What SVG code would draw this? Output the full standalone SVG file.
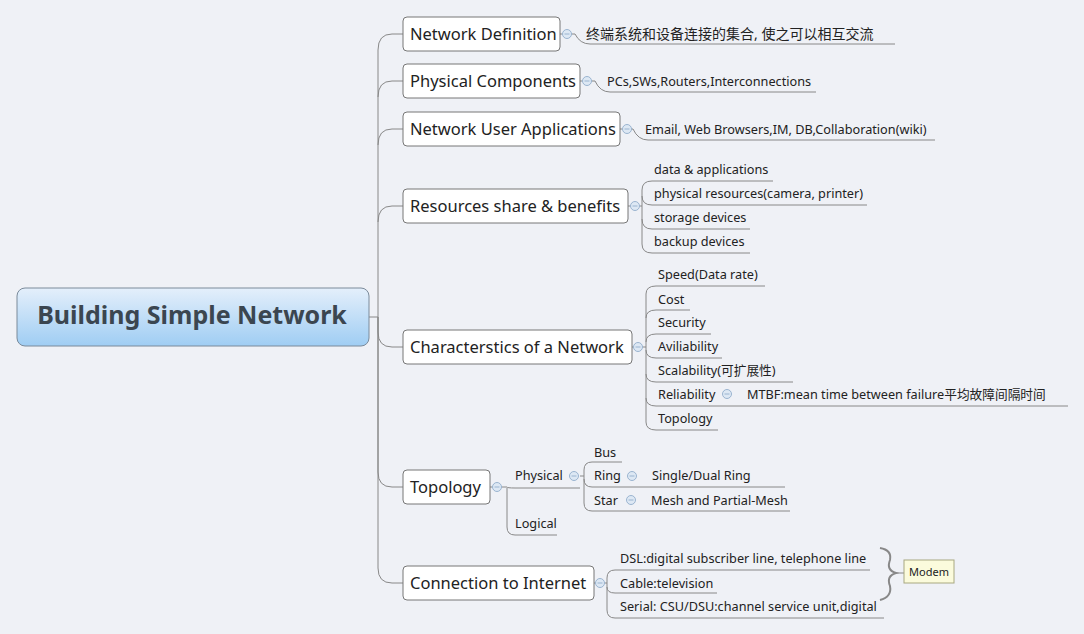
<svg xmlns="http://www.w3.org/2000/svg" width="1084" height="634" viewBox="0 0 1084 634">
<defs>
<linearGradient id="rg" x1="0" y1="0" x2="0" y2="1"><stop offset="0" stop-color="#e4effb"/><stop offset="1" stop-color="#9fcdf3"/></linearGradient>
</defs>
<style>
.bg{fill:#eff1f6}
.box{fill:#fff;stroke:#777;stroke-width:1}
.t{font-family:"Noto Sans","Noto Sans CJK SC",sans-serif;fill:#222}
.m{font-size:16.5px}
.s{font-size:12.7px}
.ln{fill:none;stroke:#888;stroke-width:1}
.c{fill:#dde8f4;stroke:#9ab4d0;stroke-width:1}
.cm{stroke:#9ab4d0;stroke-width:1}
</style>
<rect class="bg" width="1084" height="634"/>
<g id="connectors">
<path class="ln" d="M369 317 H378 M378 317 V50 Q378 34 392 34 H403 M378 97 Q378 81 392 81 H403 M378 145 Q378 129 392 129 H403 M378 222 Q378 206 392 206 H403 M378 317 V332 Q378 347 392 347 H403 M378 317 V472 Q378 487 392 487 H403 M378 317 V568 Q378 583 392 583 H403"/>
<path class="ln" d="M560 34 H575 Q580 44 590 44 H895"/>
<path class="ln" d="M580 81 H595 Q600 92 610 92 H816"/>
<path class="ln" d="M620 129 H633 Q638 140 648 140 H935"/>
<path class="ln" d="M628 206 H642 M642 190 Q642 181 652 181 H773 M642 196 Q642 205 652 205 H867 M642 219 Q642 229 652 229 H750 M642 244 Q642 253 652 253 H750 M642 190 V244"/>
<path class="ln" d="M632 347 H646 M646 294 Q646 286 656 286 H765 M646 318 Q646 310 656 310 H690 M646 342 Q646 334 656 334 H711 M646 350 Q646 358 656 358 H722 M646 374 Q646 382 656 382 H793 M646 398 Q646 406 656 406 H1068 M646 422 Q646 430 656 430 H718 M646 294 V422"/>
<path class="ln" d="M490 487 H507 M507 487 Q507 488 515 488 H580 M507 488 V527 Q507 535 515 535 H557"/>
<path class="ln" d="M580 476 H584 M584 470 Q584 462 592 462 H622 M584 479 Q584 487 592 487 H785 M584 503 Q584 511 592 511 H790 M584 470 V503"/>
<path class="ln" d="M594 583 H607 M607 578 Q607 570 615 570 H870 M607 587 Q607 593 615 593 H717 M607 610 Q607 618 615 618 H884 M607 578 V610"/>
<path d="M880 548 Q892 550 890 560 Q886 570 896 573 Q886 576 890 586 Q892 597 880 600" fill="none" stroke="#888" stroke-width="2"/>
<path class="ln" d="M896 573 H904"/>
</g>
<g id="collapsers">
<circle class="c" cx="567" cy="34" r="4.5"/><path class="cm" d="M564.5 34 H569.5"/>
<circle class="c" cx="587" cy="81" r="4.5"/><path class="cm" d="M584.5 81 H589.5"/>
<circle class="c" cx="627" cy="129" r="4.5"/><path class="cm" d="M624.5 129 H629.5"/>
<circle class="c" cx="635" cy="206" r="4.5"/><path class="cm" d="M632.5 206 H637.5"/>
<circle class="c" cx="638" cy="347" r="4.5"/><path class="cm" d="M635.5 347 H640.5"/>
<circle class="c" cx="727" cy="394" r="4.5"/><path class="cm" d="M724.5 394 H729.5"/>
<circle class="c" cx="497" cy="487" r="4.5"/><path class="cm" d="M494.5 487 H499.5"/>
<circle class="c" cx="574" cy="476" r="4.5"/><path class="cm" d="M571.5 476 H576.5"/>
<circle class="c" cx="632" cy="476" r="4.5"/><path class="cm" d="M629.5 476 H634.5"/>
<circle class="c" cx="631" cy="500" r="4.5"/><path class="cm" d="M628.5 500 H633.5"/>
<circle class="c" cx="600" cy="583" r="4.5"/><path class="cm" d="M597.5 583 H602.5"/>
</g>
<g id="root"><rect x="17" y="288" width="352" height="58" rx="8" fill="url(#rg)" stroke="#7a8a9a"/><text class="t" x="192" y="324" text-anchor="middle" font-size="25" font-weight="bold" style="fill:#3b4650">Building Simple Network</text></g>
<g id="n1"><rect class="box" x="403" y="17" width="157" height="34" rx="4"/><text class="t m" x="410" y="40">Network Definition</text></g>
<g id="n2"><rect class="box" x="403" y="64" width="177" height="34" rx="4"/><text class="t m" x="410" y="87">Physical Components</text></g>
<g id="n3"><rect class="box" x="403" y="112" width="217" height="34" rx="4"/><text class="t m" x="410" y="135">Network User Applications</text></g>
<g id="n4"><rect class="box" x="403" y="189" width="225" height="34" rx="4"/><text class="t m" x="410" y="212">Resources share &amp; benefits</text></g>
<g id="n5"><rect class="box" x="403" y="330" width="229" height="34" rx="4"/><text class="t m" x="410" y="353">Characterstics of a Network</text></g>
<g id="n6"><rect class="box" x="403" y="470" width="87" height="34" rx="4"/><text class="t m" x="410" y="493">Topology</text></g>
<g id="n7"><rect class="box" x="403" y="566" width="191" height="34" rx="4"/><text class="t m" x="410" y="589">Connection to Internet</text></g>
<g id="leaves">
<text class="t" x="586" y="39" font-size="14">终端系统和设备连接的集合, 使之可以相互交流</text>
<text class="t s" x="607" y="86">PCs,SWs,Routers,Interconnections</text>
<text class="t s" x="645" y="134">Email, Web Browsers,IM, DB,Collaboration(wiki)</text>
<text class="t s" x="654" y="174">data &amp; applications</text>
<text class="t s" x="654" y="198">physical resources(camera, printer)</text>
<text class="t s" x="654" y="222">storage devices</text>
<text class="t s" x="654" y="246">backup devices</text>
<text class="t s" x="658" y="279">Speed(Data rate)</text>
<text class="t s" x="658" y="304">Cost</text>
<text class="t s" x="658" y="327">Security</text>
<text class="t s" x="658" y="351">Aviliability</text>
<text class="t s" x="658" y="375">Scalability(可扩展性)</text>
<text class="t s" x="658" y="399">Reliability</text>
<text class="t s" x="747" y="399">MTBF:mean time between failure平均故障间隔时间</text>
<text class="t s" x="658" y="423">Topology</text>
<text class="t s" x="515" y="480">Physical</text>
<text class="t s" x="515" y="528">Logical</text>
<text class="t s" x="594" y="457">Bus</text>
<text class="t s" x="594" y="480">Ring</text>
<text class="t s" x="652" y="480">Single/Dual Ring</text>
<text class="t s" x="594" y="505">Star</text>
<text class="t s" x="651" y="505">Mesh and Partial-Mesh</text>
<text class="t s" x="620" y="563">DSL:digital subscriber line, telephone line</text>
<text class="t s" x="620" y="588">Cable:television</text>
<text class="t s" x="620" y="611">Serial: CSU/DSU:channel service unit,digital</text>
</g>
<g id="modem"><rect x="904" y="560" width="50" height="23" fill="#fbfbdc" stroke="#a8a880"/><text class="t" x="929" y="576" text-anchor="middle" font-size="11">Modem</text></g>
</svg>
